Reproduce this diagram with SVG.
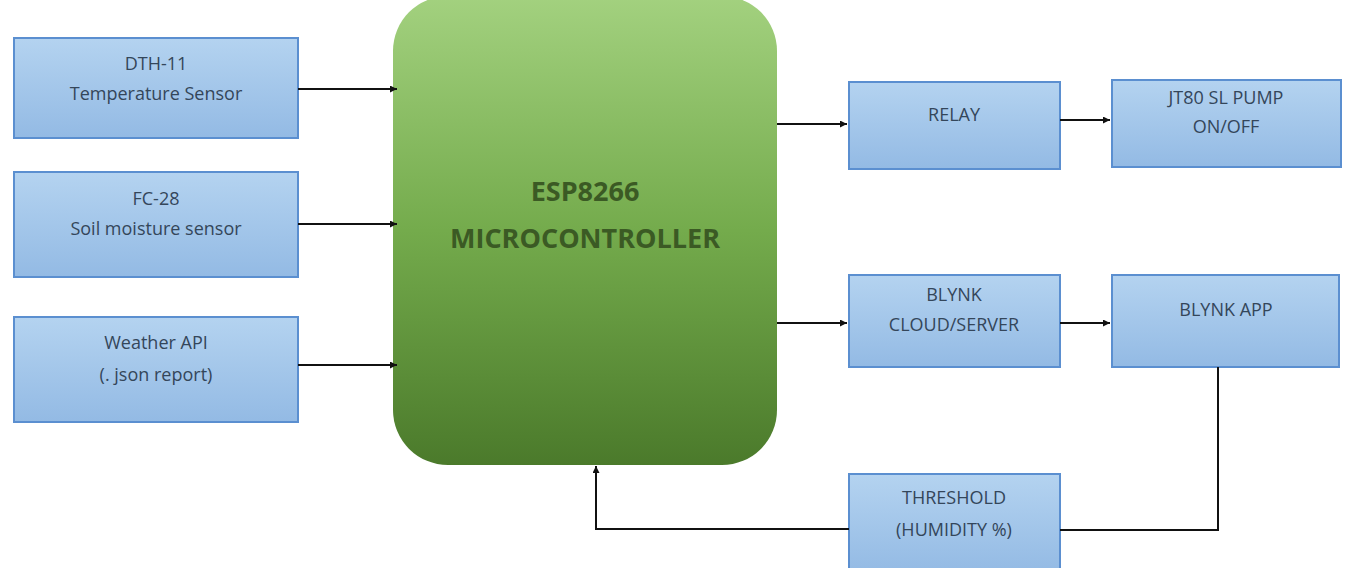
<svg xmlns="http://www.w3.org/2000/svg" width="1360" height="568" viewBox="0 0 1360 568">
<defs>
<linearGradient id="bg" x1="0" y1="0" x2="0" y2="1"><stop offset="0" stop-color="#b4d3f0"/><stop offset="1" stop-color="#93bae4"/></linearGradient>
<linearGradient id="gg" x1="0" y1="0" x2="0" y2="1"><stop offset="0" stop-color="#a3d17f"/><stop offset="0.5" stop-color="#74ab4c"/><stop offset="1" stop-color="#4b7a2b"/></linearGradient>
<marker id="a" viewBox="0 0 10 10" refX="10" refY="5" markerWidth="7" markerHeight="7" markerUnits="userSpaceOnUse" orient="auto"><path d="M0,0L10,5L0,10z" fill="#111"/></marker>
</defs>
<style>
.b{fill:url(#bg);stroke:#5b8fd0;stroke-width:2}
.t{font-family:"Open Sans","Liberation Sans",sans-serif;font-size:18px;fill:#34465a;text-anchor:middle}
.m{font-family:"Open Sans","Liberation Sans",sans-serif;font-size:27px;font-weight:bold;fill:#3b5a24;text-anchor:middle}
.c{stroke:#111;stroke-width:2;fill:none}
</style>
<rect width="1360" height="568" fill="#fff"/>
<g id="main"><rect x="393" y="-4" width="384" height="469" rx="55" fill="url(#gg)"/><text class="m" x="585" y="201">ESP8266</text><text class="m" x="585" y="248">MICROCONTROLLER</text></g>
<g id="dth"><rect class="b" x="14" y="38" width="284" height="100"/><text class="t" x="156" y="70">DTH-11</text><text class="t" x="156" y="100">Temperature Sensor</text></g>
<g id="fc28"><rect class="b" x="14" y="172" width="284" height="105"/><text class="t" x="156" y="205">FC-28</text><text class="t" x="156" y="235">Soil moisture sensor</text></g>
<g id="weather"><rect class="b" x="14" y="317" width="284" height="105"/><text class="t" x="156" y="349">Weather API</text><text class="t" x="156" y="381">(. json report)</text></g>
<g id="relay"><rect class="b" x="849" y="82" width="211" height="87"/><text class="t" x="954" y="121">RELAY</text></g>
<g id="pump"><rect class="b" x="1112" y="80" width="229" height="87"/><text class="t" x="1226" y="104">JT80 SL PUMP</text><text class="t" x="1226" y="133">ON/OFF</text></g>
<g id="cloud"><rect class="b" x="849" y="275" width="211" height="92"/><text class="t" x="954" y="301">BLYNK</text><text class="t" x="954" y="331">CLOUD/SERVER</text></g>
<g id="app"><rect class="b" x="1112" y="275" width="227" height="92"/><text class="t" x="1226" y="316">BLYNK APP</text></g>
<g id="threshold"><rect class="b" x="849" y="474" width="211" height="100"/><text class="t" x="954" y="504">THRESHOLD</text><text class="t" x="954" y="536">(HUMIDITY %)</text></g>
<g id="connectors">
<path class="c" d="M298 89H397" marker-end="url(#a)"/>
<path class="c" d="M298 224H397" marker-end="url(#a)"/>
<path class="c" d="M298 365H397" marker-end="url(#a)"/>
<path class="c" d="M777 124H847" marker-end="url(#a)"/>
<path class="c" d="M1060 120H1110" marker-end="url(#a)"/>
<path class="c" d="M777 323H847" marker-end="url(#a)"/>
<path class="c" d="M1060 323H1110" marker-end="url(#a)"/>
<path class="c" d="M1218 367V530H1060"/>
<path class="c" d="M849 529H596V466" marker-end="url(#a)"/>
</g>
</svg>
